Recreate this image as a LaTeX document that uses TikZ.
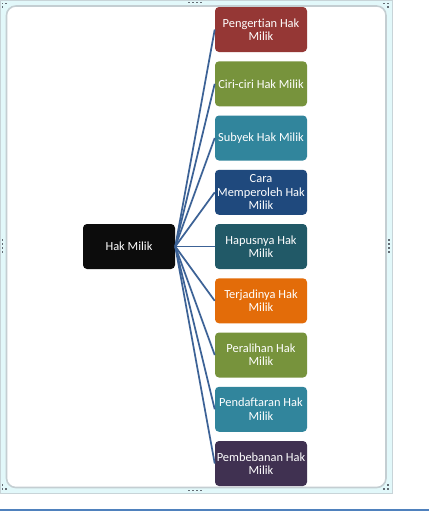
\documentclass[tikz,border=0pt]{standalone}
\usepackage{fontspec}
\setmainfont[Ligatures=NoCommon]{Carlito}
\definecolor{linecol}{RGB}{60,98,150}
\definecolor{cRed}{RGB}{149,55,53}
\definecolor{cOlive}{RGB}{119,147,60}
\definecolor{cTeal}{RGB}{49,133,156}
\definecolor{cNavy}{RGB}{31,73,125}
\definecolor{cDTeal}{RGB}{33,89,103}
\definecolor{cOrange}{RGB}{227,108,9}
\definecolor{cPurple}{RGB}{64,49,81}
\definecolor{cBlack}{RGB}{12,12,12}
\definecolor{frcyan}{RGB}{226,248,250}
\definecolor{frgray}{RGB}{200,212,216}
\definecolor{ingray}{RGB}{196,206,210}
\definecolor{dotgray}{RGB}{100,108,116}
\definecolor{botblue}{RGB}{79,129,189}
\begin{document}
\begin{tikzpicture}[x=0.75pt,y=-0.75pt,
  box/.style={rectangle, rounded corners=3pt, minimum width=69pt, minimum height=33.75pt,
    text=white, align=center, inner sep=1pt, font=\fontsize{9.3}{10}\selectfont},
  conn/.style={draw=linecol, line width=1.3pt},
  hdot/.style={fill=dotgray}]
\useasboundingbox (0,0) rectangle (429,512);
% frame
\fill[frcyan] (0,0) rectangle (393,494);
\draw[frgray, line width=0.75pt] (0.5,0.5) rectangle (392.5,493.5);
\draw[ingray, fill=white, line width=1.2pt, rounded corners=7pt] (6.5,6) rectangle (386,487.5);
% handles
\foreach \p in {(2.5,3.5),(6,3.5),(2.5,7),
                (384,3.5),(388,3.5),(388,7),
                (2.5,485),(2.5,489),(6,489),
                (384,489),(388,485),(388,489),
                (189,2.5),(193,2.5),(197,2.5),(201,2.5),
                (189,490.5),(193,490.5),(197,490.5),(201,490.5),
                (389,240),(389,244),(389,248),(389,252),
                (2.5,240),(2.5,244),(2.5,248),(2.5,252)}
  \fill[hdot] \p ++(-0.9,-0.9) rectangle ++(1.8,1.8);
% bottom line
\draw[botblue, line width=1pt] (0,510) -- (429,510);
% nodes
\node[box, fill=cBlack] (root) at (129,246.5) {Hak Milik};
\node[box, fill=cRed]    (n1) at (261,29.5)  {Pengertian Hak\\Milik};
\node[box, fill=cOlive]  (n2) at (261,83.8)  {Ciri-ciri Hak Milik};
\node[box, fill=cTeal]   (n3) at (261,138)   {Subyek Hak Milik};
\node[box, fill=cNavy]   (n4) at (261,192.3) {Cara\\Memperoleh Hak\\Milik};
\node[box, fill=cDTeal]  (n5) at (261,246.5) {Hapusnya Hak\\Milik};
\node[box, fill=cOrange] (n6) at (261,300.8) {Terjadinya Hak\\Milik};
\node[box, fill=cOlive]  (n7) at (261,355)   {Peralihan Hak\\Milik};
\node[box, fill=cTeal]   (n8) at (261,409.3) {Pendaftaran Hak\\Milik};
\node[box, fill=cPurple] (n9) at (261,463.5) {Pembebanan Hak\\Milik};
% connectors
\foreach \n in {n1,n2,n3,n4,n5,n6,n7,n8,n9}
  \draw[conn] (root.east) -- (\n.west);
\end{tikzpicture}
\end{document}
